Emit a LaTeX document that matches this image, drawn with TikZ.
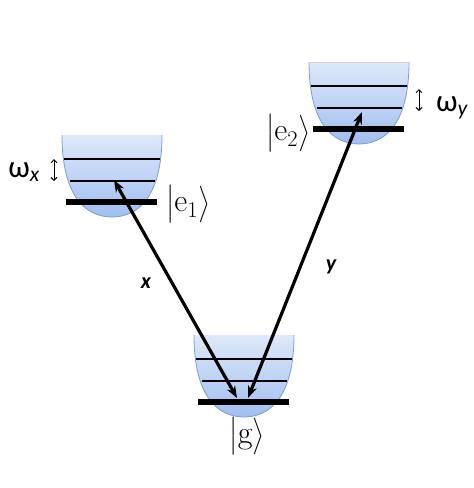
\documentclass[tikz,border=0pt]{standalone}
\usepackage{amsmath}
\usepackage{graphicx}
\usepackage{fontspec}
\setsansfont{Carlito}
\usepackage{tikz}
\usetikzlibrary{arrows.meta,positioning,calc}
\definecolor{welltop}{RGB}{222,233,250}
\definecolor{wellbot}{RGB}{160,190,240}
\definecolor{welledge}{RGB}{120,158,220}
\newcommand{\ketlabel}[1]{\scalebox{1}[1.22]{$\bigl|$}$\mathrm{#1}$\scalebox{1}[1.22]{$\bigr\rangle$}}

\tikzset{
    pics/well/.style={code={
        \shade[top color=welltop, bottom color=wellbot, draw=welledge, line width=0.8pt]
            (-50,0) .. controls (-50,62) and (-26,82) .. (0,82)
            .. controls (26,82) and (50,62) .. (50,0);
        \draw[level] (-48,24) -- (48,24);
        \draw[level] (-42,46) -- (43,46);
        \draw[bar] (-46,67) -- (45,67);
    }},
    level/.style={line width=2.6pt},
    bar/.style={line width=5.5pt},
    transition/.style={{Stealth[length=12pt,width=9pt]}-{Stealth[length=12pt,width=9pt]}, line width=3.2pt},
    spacing/.style={{Straight Barb[length=3pt,width=6pt]}-{Straight Barb[length=3pt,width=6pt]}, line width=0.9pt},
    freq/.style={font=\sffamily\fontsize{31}{34}\selectfont},
    ket/.style={font=\fontsize{32}{36}\selectfont, inner sep=0pt},
    pol/.style={font=\sffamily\bfseries\itshape\fontsize{22}{24}\selectfont}
}

\begin{document}
\begin{tikzpicture}[x=1pt, y=-1pt]
    \useasboundingbox (0,0) rectangle (474,488);

    % the three potential wells
    \pic (we1) at (112,135) {well};
    \pic (we2) at (359,62) {well};
    \pic (wg) at (244,335) {well};
    \draw[gray!35, line width=0.6pt] (309,62) -- (409,62);

    % transition end points
    \coordinate (e1v) at (114,180);
    \coordinate (e2v) at (362,112);
    \coordinate (gx) at (237,398);
    \coordinate (gy) at (248,398);

    \draw[transition] (e1v) -- (gx);
    \draw[transition] (e2v) -- (gy);

    % vibrational spacing
    \coordinate (sxa) at (54,159);
    \coordinate (sxb) at (54,181);
    \coordinate (sya) at (419,89);
    \coordinate (syb) at (419,111);
    \draw[spacing] (sxa) -- (sxb);
    \draw[spacing] (sya) -- (syb);

    % labels
    \node[freq] (omx) at (24,172) {ω\textsubscript{\itshape x}};
    \node[freq] (omy) at (452,108) {ω\textsubscript{\itshape y}};
    \node[ket] (ke1) at (188,204) {\ketlabel{e_1}};
    \node[ket] (ke2) at (288,133) {\ketlabel{e_2}};
    \node[ket] (kg) at (247,436) {\ketlabel{g}};
    \node[pol] (lx) at (146,283) {x};
    \node[pol] (ly) at (331,267) {y};
\end{tikzpicture}
\end{document}
